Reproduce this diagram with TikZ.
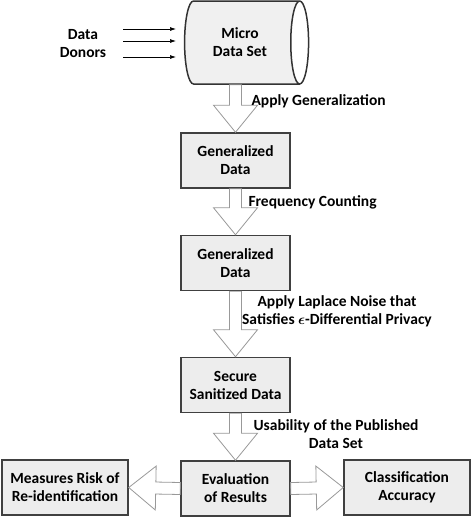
\documentclass[tikz,border=0pt]{standalone}
\usepackage{amsmath}
\usepackage{fontspec}
\setmainfont{Carlito}
\usetikzlibrary{arrows.meta,positioning,calc,shapes.geometric}

% hollow block arrow from #1 to #2
\newcommand{\blockarrow}[2]{%
  \draw[blockarr] let \p1=($(#2)-(#1)$), \n1={atan2(\y1,\x1)}, \n2={veclen(\x1,\y1)} in
    [shift={(#1)}, rotate=\n1]
    (0,-6) -- (\n2-27,-6) -- (\n2-27,-22) -- (\n2,0) -- (\n2-27,22) -- (\n2-27,6) -- (0,6) -- cycle;
}

\begin{document}
\begin{tikzpicture}[x=1pt, y=-1pt,
    every node/.style={font=\fontsize{15.5}{18}\selectfont\bfseries, align=center},
    box/.style={draw=black!75, line width=1.5pt, fill=black!7, minimum width=109, minimum height=55},
    store/.style={cylinder, draw=black!80, line width=1.5pt, shape aspect=0.5,
      cylinder uses custom fill, cylinder body fill=black!6, cylinder end fill=white,
      minimum width=83, minimum height=124},
    blockarr/.style={draw=black!40, line width=0.8pt, fill=white},
    thinarr/.style={-{Latex[length=6pt,width=4pt]}, line width=0.7pt}]
    \useasboundingbox (0,0) rectangle (474,520);
    % Source
    \node[store] (cyl) at (240,42.5) {Micro\\Data Set};
    \node (donors) at (83,44) {Data\\Donors};
    \foreach \yy [count=\i] in {29,41,57} {
      \coordinate (src\i) at (123,\yy);
      \coordinate (dst\i) at (176,\yy);
      \draw[thinarr] (src\i) -- (dst\i);
    }
    % Pipeline
    \node[box] (gen1) at (235.5,160.5) {Generalized\\Data};
    \node[box] (gen2) at (235.5,263) {Generalized\\Data};
    \node[box] (secure) at (235.5,385) {Secure\\Sanitized Data};
    \node[box] (eval) at (235.5,488.5) {Evaluation\\of Results};
    \node[box, minimum width=126] (risk) at (65,487.5) {Measures Risk of\\Re-identification};
    \node[box, minimum width=126] (acc) at (407,487.5) {Classification\\Accuracy};
    % Block arrows
    \blockarrow{gen1.north |- cyl.south}{gen1.north}
    \blockarrow{gen1.south}{gen2.north}
    \blockarrow{gen2.south}{secure.north}
    \blockarrow{secure.south}{eval.north}
    \blockarrow{eval.west}{risk.east}
    \blockarrow{eval.east}{acc.west}
    % Step labels
    \node[anchor=west] (lbl1) at (248,101) {Apply Generalization};
    \node[anchor=west] (lbl2) at (245,202) {Frequency Counting};
    \node (lbl3) at (337,311) {Apply Laplace Noise that\\Satisfies $\boldsymbol{\epsilon}$-Differential Privacy};
    \node (lbl4) at (336,434) {Usability of the Published\\Data Set};
  \end{tikzpicture}
\end{document}
